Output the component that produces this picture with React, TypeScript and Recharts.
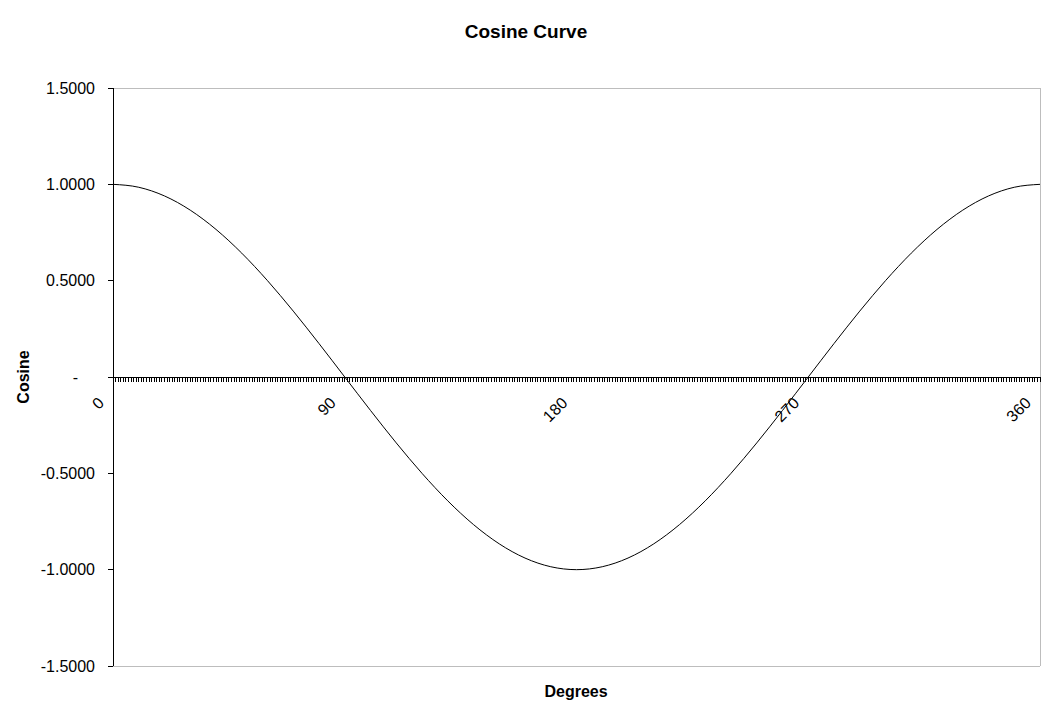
import { LineChart, Line, XAxis, YAxis, ReferenceLine } from 'recharts';

const FONT = '"Liberation Sans", Arial, sans-serif';

// plot box edges (chart is 1052 x 718)
const PLOT_TOP = 88;
const PLOT_BOTTOM = 666;
const PLOT_LEFT = 113;
const PLOT_RIGHT = 1040;
const ZERO_Y = (PLOT_TOP + PLOT_BOTTOM) / 2;
const X_AXIS_HEIGHT = 30;

// cosine values, every 10 degrees
const degrees = [
  0, 10, 20, 30, 40, 50, 60, 70, 80, 90, 100, 110, 120, 130, 140, 150, 160, 170, 180,
  190, 200, 210, 220, 230, 240, 250, 260, 270, 280, 290, 300, 310, 320, 330, 340, 350, 360,
];
const cosine = [
  1.0, 0.9848, 0.9397, 0.866, 0.766, 0.6428, 0.5, 0.342, 0.1736, 0.0, -0.1736, -0.342, -0.5,
  -0.6428, -0.766, -0.866, -0.9397, -0.9848, -1.0, -0.9848, -0.9397, -0.866, -0.766, -0.6428,
  -0.5, -0.342, -0.1736, 0.0, 0.1736, 0.342, 0.5, 0.6428, 0.766, 0.866, 0.9397, 0.9848, 1.0,
];

// one category tick per degree, labels only every 90
const degreeTicks = Array.from({ length: 361 }, (_, i) => i);
const labeledDegrees = [0, 90, 180, 270, 360];
const cosineTicks = [-1.5, -1.0, -0.5, 0, 0.5, 1.0, 1.5];

const data = degrees.map((deg, i) => ({ deg, cos: cosine[i] }));

const XTick = (props: any) => {
  const { x, payload } = props;
  const v = payload.value as number;
  const lx = x - 8;
  const ly = ZERO_Y + 27;
  return (
    <g>
      <line
        x1={x}
        x2={x}
        y1={ZERO_Y}
        y2={ZERO_Y + 5}
        stroke="#000"
        strokeWidth={1}
        shapeRendering="crispEdges"
      />
      {labeledDegrees.includes(v) && (
        <text
          x={lx}
          y={ly}
          transform={`rotate(-45 ${lx} ${ly})`}
          textAnchor="end"
          fontFamily={FONT}
          fontSize={16}
          fill="#000"
        >
          {v}
        </text>
      )}
    </g>
  );
};

const YTick = (props: any) => {
  const { x, y, payload } = props;
  const v = payload.value as number;
  return (
    <text
      x={v === 0 ? x - 17 : x}
      y={y}
      dy="0.36em"
      textAnchor="end"
      fontFamily={FONT}
      fontSize={16}
      fill="#000"
    >
      {v === 0 ? '-' : v.toFixed(4)}
    </text>
  );
};

export default function App() {
  return (
    <div style={{ position: 'absolute', left: 0, top: 0, width: 1052, height: 718, background: '#fff' }}>
      <style>{`
        .recharts-reference-line-line,
        .recharts-cartesian-axis-line,
        .recharts-cartesian-axis-tick-line { shape-rendering: crispEdges; }
      `}</style>
      <LineChart
        width={1052}
        height={718}
        data={data}
        margin={{
          top: PLOT_TOP,
          right: 1052 - PLOT_RIGHT,
          bottom: 718 - PLOT_BOTTOM - X_AXIS_HEIGHT,
          left: 0,
        }}
      >
        <XAxis
          dataKey="deg"
          type="number"
          domain={[0, 360]}
          ticks={degreeTicks}
          interval={0}
          axisLine={false}
          tickLine={false}
          height={X_AXIS_HEIGHT}
          tick={XTick}
        />
        <YAxis
          type="number"
          domain={[-1.5, 1.5]}
          ticks={cosineTicks}
          interval={0}
          width={PLOT_LEFT}
          tickSize={5}
          tickMargin={13}
          axisLine={{ stroke: '#000' }}
          tickLine={{ stroke: '#000' }}
          tick={YTick}
        />
        <ReferenceLine y={1.5} stroke="#bdbdbd" strokeWidth={1} />
        <ReferenceLine y={-1.5} stroke="#bdbdbd" strokeWidth={1} />
        <ReferenceLine x={360} stroke="#bdbdbd" strokeWidth={1} />
        <ReferenceLine y={0} stroke="#000" strokeWidth={1} />
        <Line
          type="monotone"
          dataKey="cos"
          stroke="#000"
          strokeWidth={1}
          dot={false}
          activeDot={false}
          isAnimationActive={false}
        />
      </LineChart>
      <svg
        width={1052}
        height={718}
        style={{ position: 'absolute', left: 0, top: 0, pointerEvents: 'none' }}
      >
        <text x={526} y={38} textAnchor="middle" fontFamily={FONT} fontSize={19} fontWeight="bold" fill="#000">
          Cosine Curve
        </text>
        <text x={576} y={697} textAnchor="middle" fontFamily={FONT} fontSize={16} fontWeight="bold" fill="#000">
          Degrees
        </text>
        <text
          x={29}
          y={377}
          transform="rotate(-90 29 377)"
          textAnchor="middle"
          fontFamily={FONT}
          fontSize={16}
          fontWeight="bold"
          fill="#000"
        >
          Cosine
        </text>
      </svg>
    </div>
  );
}
